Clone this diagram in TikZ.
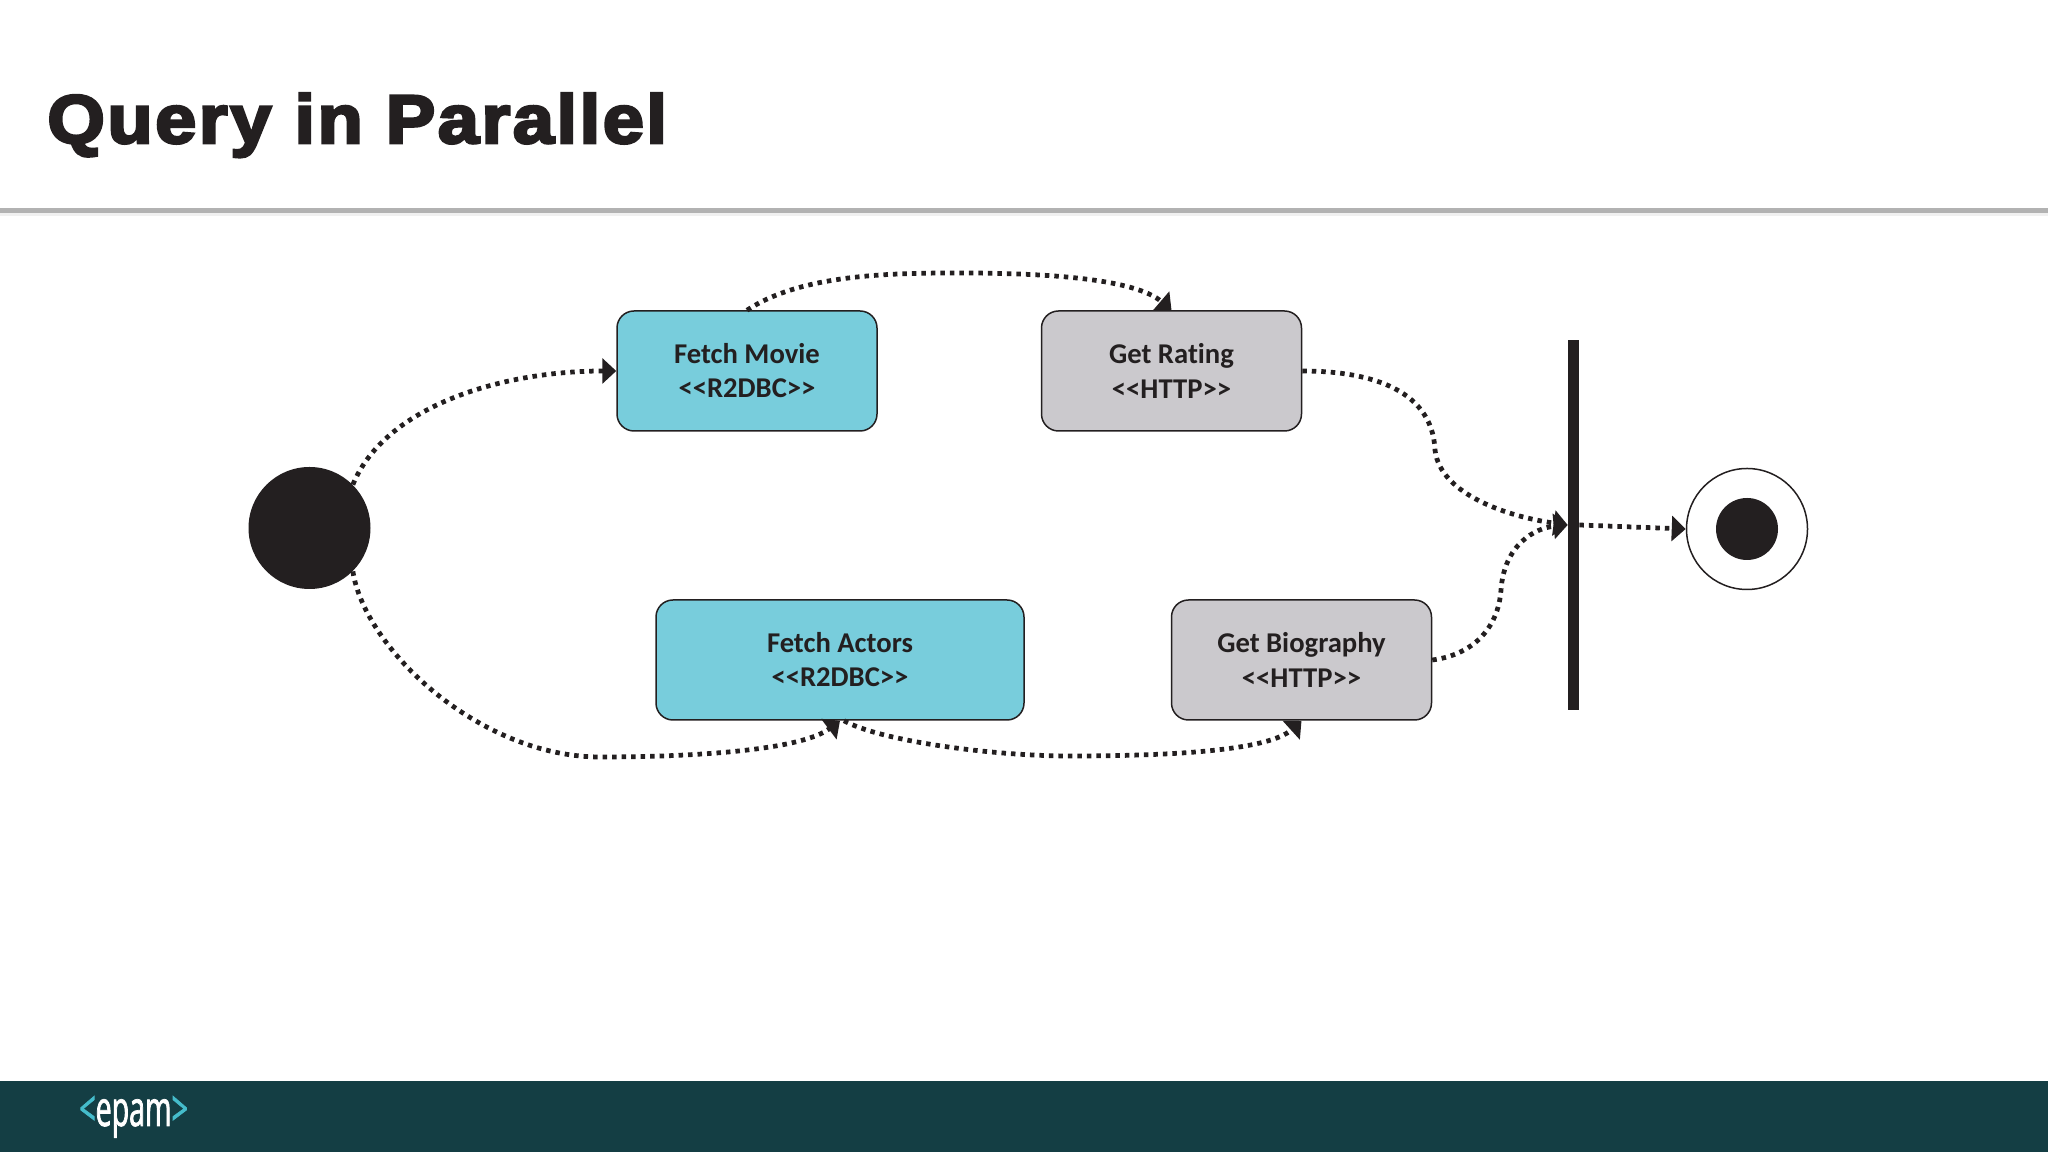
\documentclass[tikz,border=0pt]{standalone}
\usepackage{fontspec}
\usepackage{xcolor}
\usetikzlibrary{arrows.meta}
\usetikzlibrary{calc}
\usetikzlibrary{positioning}
\setmainfont[Ligatures=NoCommon]{Carlito}
\newfontfamily\titlefont[FakeBold=4,FakeStretch=1.08,LetterSpace=3.7]{Liberation Sans Bold}
\newfontfamily\logofont[FakeBold=1.5,FakeStretch=0.58]{Open Sans}
\definecolor{inkdark}{HTML}{231F20}
\definecolor{fetchcol}{HTML}{78CDDC}
\definecolor{httpcol}{HTML}{CBC9CD}
\definecolor{footcol}{HTML}{143E44}
\definecolor{logocol}{HTML}{45BCCB}
\tikzstyle{block} = [style=draw, draw=inkdark,
	line width=0.03cm,
	rounded corners=0.34cm,
	minimum width = 5.2cm,
	minimum height = 2.4cm,
	align=center,
	text=inkdark,
	font=\fontsize{16.3}{19.4}\selectfont\bfseries]
\tikzstyle{flow} =[-{Triangle[length=0.28cm,width=0.5cm]}, inkdark,
	line width=0.095cm,
	dash pattern=on 0.09cm off 0.1cm]
\begin{document}
\begin{tikzpicture}
			\useasboundingbox (0,0) rectangle (40.96,23.04);
			\fill [footcol] (0,0) rectangle (40.96,1.42);
			\fill [black!6] (0,18.72) rectangle (40.96,18.88);
			\fill [black!30] (0,18.78) rectangle (40.96,18.88);
			\node (title) [anchor=base west, inner sep=0, text=inkdark, font=\fontsize{39}{39}\titlefont] at (0.94,20.18) {Query in Parallel};
			\node (logo) [anchor=base west, inner sep=0, text=white, font=\fontsize{28}{28}\logofont] at (1.58,0.52) {\textcolor{logocol}{<}epam\textcolor{logocol}{>}};
			
			\node (start) [circle, fill=inkdark, minimum size=2.44cm, inner sep=0] at (6.19,12.48) {};
			\node (fmovie) [block, fill=fetchcol] at (14.94,15.62) {Fetch Movie\\<{}<R2DBC>{}>};
			\node (grating) [block, fill=httpcol, right = 3.26cm] at (fmovie.east) {Get Rating\\<{}<HTTP>{}>};
			\node (factors) [block, fill=fetchcol, minimum width=7.36cm] at (16.8,9.84) {Fetch Actors\\<{}<R2DBC>{}>};
			\node (gbio) [block, fill=httpcol, right = 2.92cm] at (factors.east) {Get Biography\\<{}<HTTP>{}>};
			\node (bar) [fill=inkdark, minimum width=0.22cm, minimum height=7.4cm, inner sep=0] at (31.47,12.54) {};
			\node (finish) [circle, draw=inkdark, line width=0.03cm, minimum size=2.42cm, inner sep=0] at (34.94,12.46) {};
			\node (dot) [circle, fill=inkdark, minimum size=1.24cm, inner sep=0] at (finish) {};
			
			\coordinate (tpeak) at (19.2,17.58);
			\coordinate (rbend) at (28.7,14.04);
			\coordinate (gbend) at (30.02,11.24);
			\coordinate (lowa) at (12.0,7.9);
			\coordinate (lowb) at (21.42,7.92);
			
			\draw [flow] (start.45) .. controls +(0.64,1.56) and +(-2.32,0) .. (fmovie.west);
			\draw [flow] (fmovie.north) .. controls +(1.08,0.72) and +(-1.4,0) .. (tpeak) .. controls +(1.8,0) and +(-0.72,0.62) .. (grating.north);
			\draw [flow] (grating.east) .. controls +(1.18,0) and +(-0.06,1.3) .. (rbend) .. controls +(0.1,-0.9) and +(-1.16,0.16) .. (bar.west);
			\draw [flow] (gbio.east) .. controls +(0.78,0.1) and +(-0.06,-0.8) .. (gbend) .. controls +(0.06,0.9) and +(-0.66,-0.06) .. (bar.west);
			\draw [flow] (start.-45) .. controls +(0.24,-1.56) and +(-2.4,0) .. (lowa) .. controls +(1.8,0) and +(-0.8,-0.6) .. (factors.south);
			\draw [flow] ($ (factors.south) + (0.08,0) $) .. controls +(0.72,-0.4) and +(-1.62,0) .. (lowb) .. controls +(1.98,0) and +(-0.66,-0.6) .. (gbio.south);
			\draw [flow] (bar.east) -- (finish.west);
		\end{tikzpicture}
\end{document}
